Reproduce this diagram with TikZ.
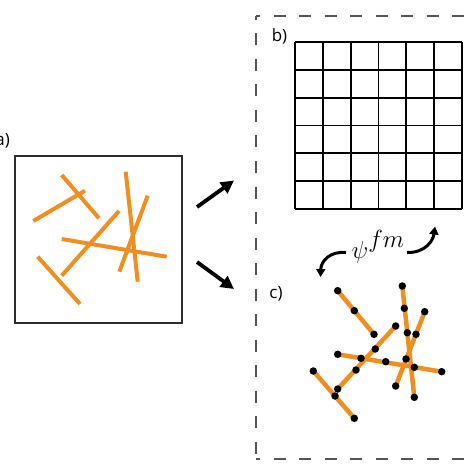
\documentclass[tikz,border=0pt]{standalone}
\usepackage{fontspec}
\setmainfont{Open Sans}
\usetikzlibrary{arrows.meta}
\definecolor{stick}{RGB}{240,142,32}
\definecolor{dashgray}{RGB}{85,85,85}
\definecolor{boxgray}{RGB}{45,45,45}
\begin{document}
\begin{tikzpicture}[x=1bp,y=-1bp,
  stickline/.style={stick,line width=4bp},
  graphline/.style={stick,line width=4.5bp},
  dot/.style={circle,fill=black,inner sep=0pt,minimum size=7.5bp},
  lab/.style={font=\fontsize{17}{17}\selectfont,inner sep=0pt},
  bigarrow/.style={line width=3.8bp,-{Triangle[length=13bp,width=13bp]}},
  curvarrow/.style={line width=3bp,-{Triangle[length=8bp,width=9bp]}},
  dashbox/.style={dashgray,line width=1.5bp,dash pattern=on 12bp off 13.5bp,dash phase=8bp},
  gridline/.style={black,line width=1.9bp}]
\useasboundingbox (0,0) rectangle (474,474);
\clip (0,0) rectangle (474,474);

% panel a
\node[draw=boxgray,line width=2bp,minimum width=167bp,minimum height=167bp,inner sep=0pt] (boxa) at (98.5,239.5) {};
\node[lab,anchor=east] (la) at (10,141) {a)};
\draw[stickline] (61.7,175) -- (99,218.3);
\draw[stickline] (33.3,221) -- (85,190.7);
\draw[stickline] (125.7,171.7) -- (137.7,281.7);
\draw[stickline] (147.7,195.7) -- (119.3,271.7);
\draw[stickline] (61.7,239) -- (166.7,256.7);
\draw[stickline] (119,211) -- (61.7,275.7);
\draw[stickline] (37.7,256.7) -- (80,304);

% arrows
\coordinate (a1s) at (197,207);
\coordinate (a1e) at (234,180.5);
\coordinate (a2s) at (197,262);
\coordinate (a2e) at (234,289);
\draw[bigarrow] (a1s) -- (a1e);
\draw[bigarrow] (a2s) -- (a2e);

% dashed box
\coordinate (dtl) at (256,16);
\coordinate (dbl) at (256,459);
\coordinate (dtr) at (500,16);
\coordinate (dbr) at (500,459);
\draw[dashbox] (dtl) -- (dtr);
\draw[dashbox] (dtl) -- (dbl);
\draw[dashbox] (dbl) -- (dbr);

% panel b grid
\node[lab] (lb) at (279.5,36) {b)};
\foreach \i in {0,...,6} {
  \draw[gridline] ({295+\i*27.83},42) -- ({295+\i*27.83},209);
  \draw[gridline] (295,{42+\i*27.83}) -- (462,{42+\i*27.83});
}

% psi label and curved arrows
\node[inner sep=0pt,anchor=base west,font=\fontsize{24}{24}\selectfont] (psi) at (351.5,258) {$\psi$\raisebox{11bp}{$fm$}};
\coordinate (c1s) at (346,252.5);
\coordinate (c1e) at (320.5,277);
\coordinate (c2s) at (407,252.5);
\coordinate (c2e) at (435,226.5);
\draw[curvarrow] (c1s) .. controls (330,251) and (321,261) .. (c1e);
\draw[curvarrow] (c2s) .. controls (425,253) and (433,241) .. (c2e);

% panel c graph
\node[lab] (lc) at (276,294) {c)};
\coordinate (d1) at (337.7,290.7);
\coordinate (d2) at (354.3,310.7);
\coordinate (d3) at (374,334.3);
\coordinate (d4) at (402.3,286);
\coordinate (d5) at (404.3,308.3);
\coordinate (d6) at (407.3,332.7);
\coordinate (d7) at (406,359);
\coordinate (d8) at (414.3,397.3);
\coordinate (d9) at (424.7,311.7);
\coordinate (d10) at (416,334.3);
\coordinate (d11) at (395.7,386);
\coordinate (d12) at (337.7,354.3);
\coordinate (d13) at (361,358.3);
\coordinate (d14) at (385.7,361.7);
\coordinate (d15) at (414.3,367.3);
\coordinate (d16) at (441.7,371.7);
\coordinate (d17) at (395.7,326);
\coordinate (d18) at (375.3,349);
\coordinate (d19) at (356,370);
\coordinate (d20) at (337.7,389);
\coordinate (d21) at (313.3,371);
\coordinate (d22) at (335,396);
\coordinate (d23) at (354.3,418.3);
\draw[graphline] (d1) -- (d3);
\draw[graphline] (d4) -- (d8);
\draw[graphline] (d9) -- (d11);
\draw[graphline] (d12) -- (d16);
\draw[graphline] (d17) -- (d20);
\draw[graphline] (d21) -- (d23);
\foreach \d in {1,...,23} {
  \node[dot] (n\d) at (d\d) {};
}
\end{tikzpicture}
\end{document}
